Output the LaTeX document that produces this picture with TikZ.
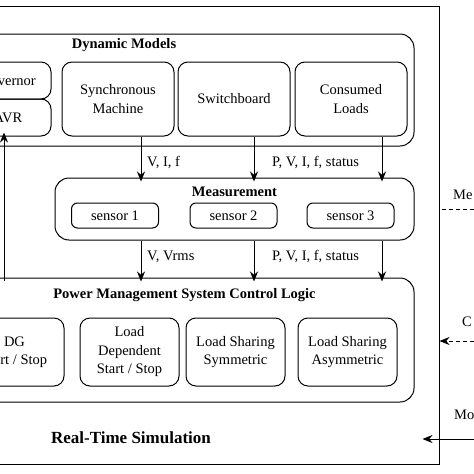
\documentclass[tikz,border=0pt]{standalone}
\usepackage{fontspec}
\setmainfont{Liberation Serif}
\usetikzlibrary{arrows.meta,
                calc,
                positioning}

\tikzset{
  txt/.style={font=\fontsize{14.5}{18.5}\selectfont},
  box/.style={draw, txt, rounded corners=10pt, line width=1pt,
              align=center, inner sep=0pt},
  grp/.style={draw, rounded corners=14pt, line width=1pt, inner sep=0pt},
  sensorbox/.style={box, rounded corners=6pt, minimum width=87pt, minimum height=25pt},
  ttl/.style={font=\bfseries\fontsize{14.5}{17}\selectfont, inner sep=0pt},
  arr/.style={-{Stealth[length=10pt,width=8pt]}, line width=1pt},
  lbl/.style={txt, anchor=west, inner sep=0pt}
}

\begin{document}
\begin{tikzpicture}[x=1pt,y=-1pt]
\useasboundingbox (0,0) rectangle (474,474);
\clip (0,0) rectangle (474,474);

% outer frame and groups
\node[draw, line width=1pt, minimum width=499pt, minimum height=458pt] (sim) at (189.5,235) {};
\node[grp, minimum width=580pt, minimum height=112pt] (dyn) at (124,90) {};
\node[grp, minimum width=359pt, minimum height=62pt] (meas) at (234.5,209) {};
\node[grp, minimum width=459pt, minimum height=124pt] (pms) at (184.5,340) {};

\node[ttl] (dyntitle) at (124,45) {Dynamic Models};
\node[ttl] (meastitle) at (234.5,192) {Measurement};
\node[ttl] (pmstitle) at (184.5,295) {Power Management System Control Logic};
\node[ttl, font=\bfseries\fontsize{17}{20}\selectfont] (simtitle) at (131,438) {Real-Time Simulation};

% dynamic models
\node[box, minimum width=86pt, minimum height=37pt] (gov) at (8,80.5) {Governor};
\node[box, minimum width=86pt, minimum height=37pt] (avr) at (8,117.5) {AVR};
\foreach \n/\x/\t in {sm/118/Synchronous\\Machine, sb/234/Switchboard, cl/351/Consumed\\Loads}
  \node[box, minimum width=112pt, minimum height=74pt] (\n) at (\x,99) {\t};

% sensors
\foreach \n/\x/\t in {s1/115/sensor 1, s2/233.5/sensor 2, s3/350.5/sensor 3}
  \node[sensorbox] (\n) at (\x,215.5) {\t};

% control logic
\foreach \n/\x/\t in {dg/14.5/{DG\\Start / Stop}, ld/129.5/{Load\\Dependent\\Start / Stop},
                      lss/235.5/{Load Sharing\\Symmetric}, lsa/347.5/{Load Sharing\\Asymmetric}}
  \node[box, minimum width=99pt, minimum height=68pt] (\n) at (\x,352) {\t};

% signal paths
\foreach \n/\x in {0/4, 1/141, 2/254, 3/382}
  \coordinate (c\n) at (\x,0);

\draw[arr, shorten >=-4pt] (sm.south -| c1) -- (meas.north -| c1);
\draw[arr, shorten >=-4pt] (sb.south -| c2) -- (meas.north -| c2);
\draw[arr, shorten >=-4pt] (cl.south -| c3) -- (meas.north -| c3);
\foreach \n in {1,2,3}
  \draw[arr, shorten >=-4pt] (meas.south -| c\n) -- (pms.north -| c\n);
\draw[arr, shorten >=-4pt] ($(pms.north -| c0)+(0,3)$) -- (avr.south -| c0);

\node[lbl] (l1) at (147,163) {V, I, f};
\node[lbl] (l2) at (272,163) {P, V, I, f, status};
\node[lbl] (l3) at (147,257) {V, Vrms};
\node[lbl] (l4) at (272,257) {P, V, I, f, status};

% outside links
\coordinate (meout) at (474,209);
\coordinate (cin) at (474,341);
\coordinate (moin) at (474,439);
\draw[line width=1pt, dash pattern=on 4pt off 3pt] ($(sim.east |- meout)+(2,0)$) -- (meout);
\draw[arr, dash pattern=on 4pt off 3pt] (cin) -- (sim.east |- cin);
\draw[arr] (moin) -- ($(sim.east |- moin)+(-17,0)$);

\node[lbl] (me) at (453,195) {Me};
\node[lbl] (co) at (462,322) {C};
\node[lbl] (mo) at (454,415) {Mo};
\end{tikzpicture}
\end{document}
